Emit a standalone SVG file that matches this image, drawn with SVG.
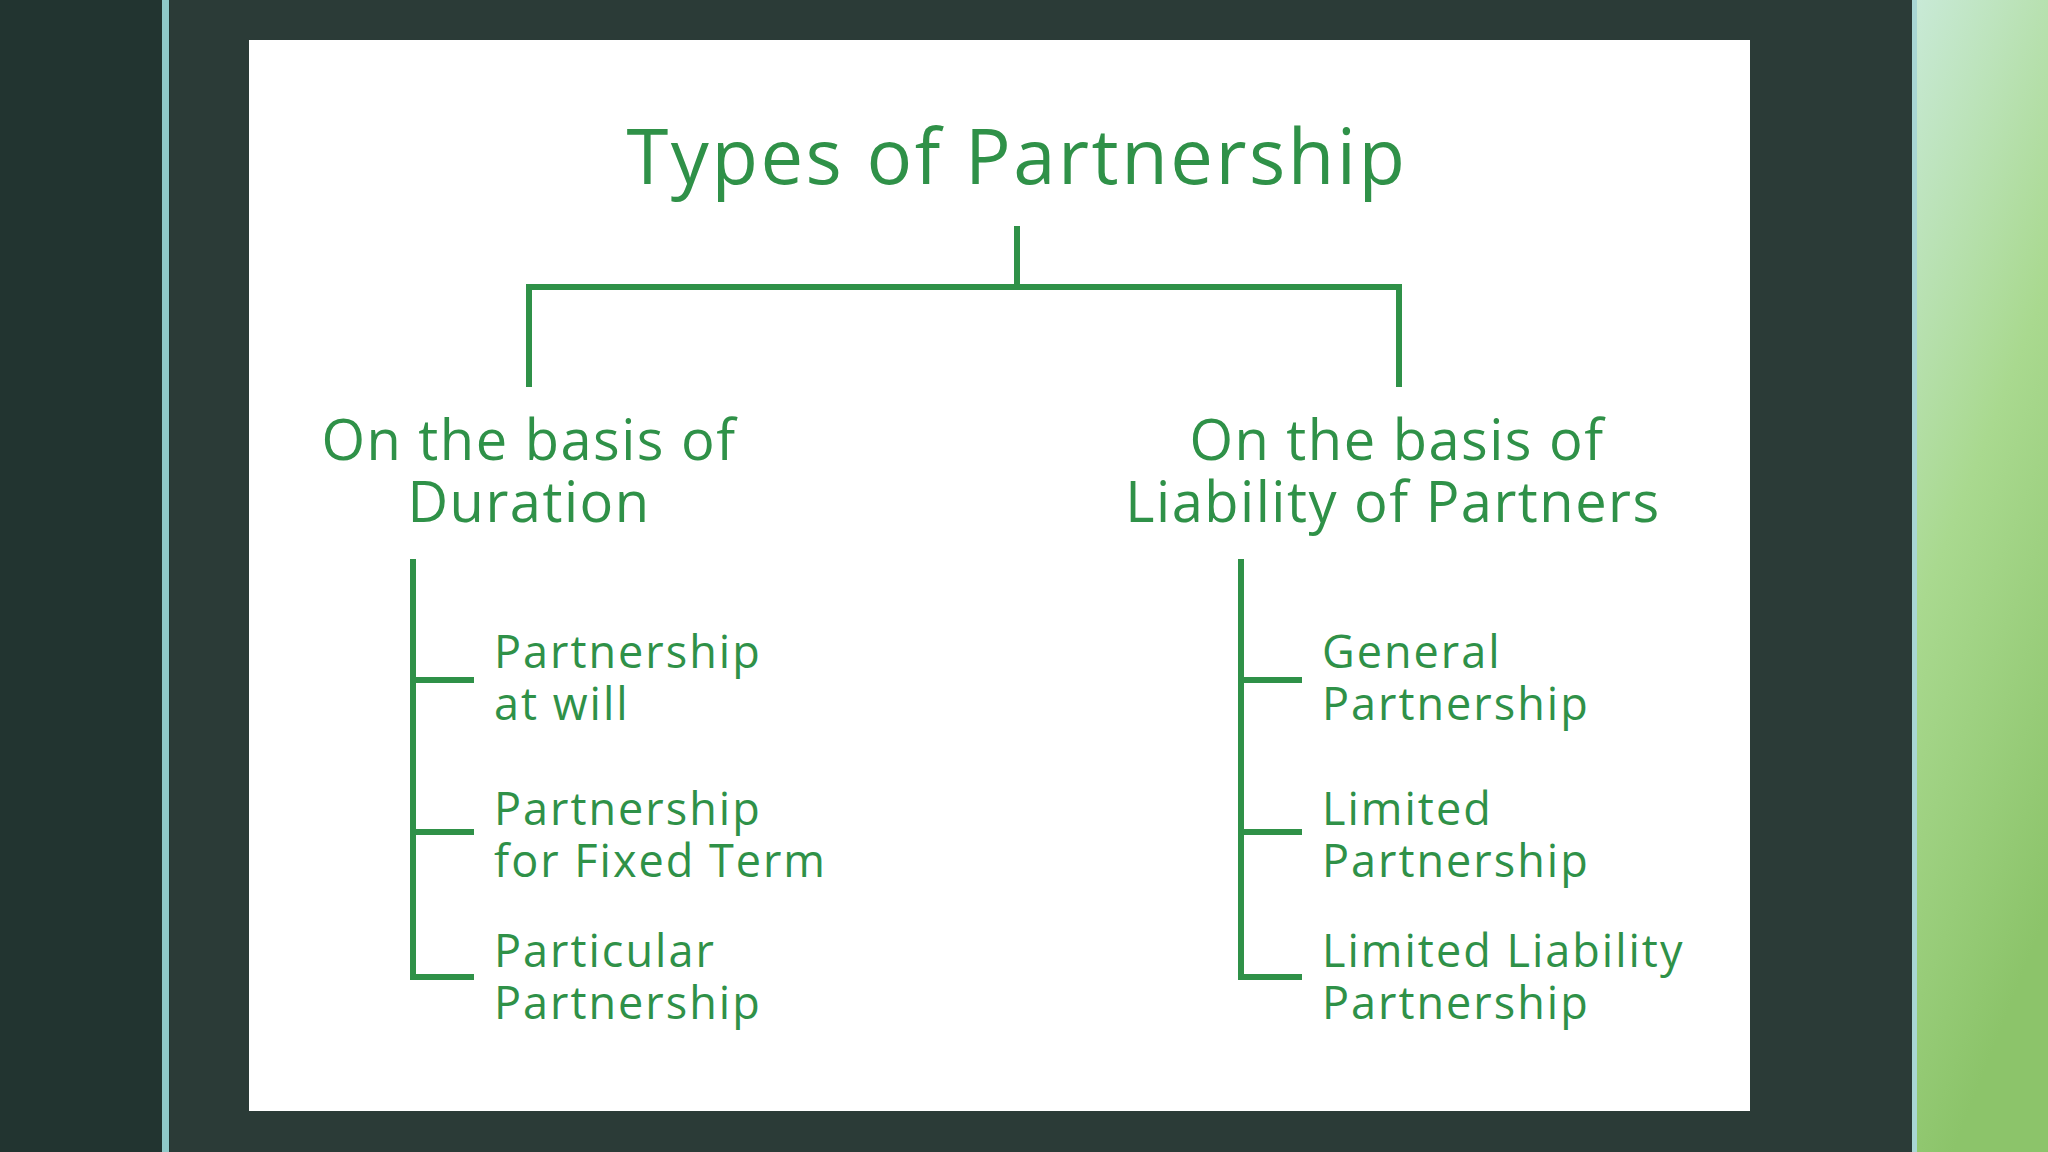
<svg xmlns="http://www.w3.org/2000/svg" width="2048" height="1152" viewBox="0 0 2048 1152">
<defs>
<linearGradient id="g" x1="0" y1="0" x2="0.3" y2="1"><stop offset="0" stop-color="#c9ead8"/><stop offset="0.5" stop-color="#a9d98f"/><stop offset="1" stop-color="#8cc46a"/></linearGradient>
<style>
.t{font-family:"Open Sans","Liberation Sans",sans-serif;fill:#2f9148}
.h{font-size:56px;text-anchor:middle;letter-spacing:1.5px}
.i{font-size:45px;letter-spacing:2px}
.c{stroke:#2f9148;stroke-width:6;fill:none}
</style>
</defs>
<rect width="2048" height="1152" fill="#223430"/>
<rect x="170" y="0" width="1742" height="1152" fill="#2b3b37"/>
<rect x="162" y="0" width="7" height="1152" fill="#8fc9c8"/>
<rect x="1912" y="0" width="136" height="1152" fill="url(#g)"/>
<rect x="1912" y="0" width="5" height="1152" fill="#a9d6d4"/>
<rect x="249" y="40" width="1501" height="1071" fill="#ffffff"/>
<g id="title"><text class="t" x="1017" y="184" font-size="76" text-anchor="middle" letter-spacing="2.5">Types of Partnership</text></g>
<g id="connectors">
<path class="c" d="M1017 226V287M529 387V287H1399V387"/>
<path class="c" d="M413 559V980M413 680H474M413 832H474M410 977H474"/>
<path class="c" d="M1241 559V980M1241 680H1302M1241 832H1302M1238 977H1302"/>
</g>
<g id="duration"><text class="t h" x="529" y="460">On the basis of</text><text class="t h" x="529" y="522">Duration</text></g>
<g id="liability"><text class="t h" x="1397" y="460">On the basis of</text><text class="t h" x="1393" y="522">Liability of Partners</text></g>
<g id="atwill"><text class="t i" x="494" y="668">Partnership</text><text class="t i" x="494" y="720">at will</text></g>
<g id="fixed"><text class="t i" x="494" y="825">Partnership</text><text class="t i" x="494" y="877">for Fixed Term</text></g>
<g id="particular"><text class="t i" x="494" y="967">Particular</text><text class="t i" x="494" y="1019">Partnership</text></g>
<g id="general"><text class="t i" x="1322" y="668">General</text><text class="t i" x="1322" y="720">Partnership</text></g>
<g id="limited"><text class="t i" x="1322" y="825">Limited</text><text class="t i" x="1322" y="877">Partnership</text></g>
<g id="llp"><text class="t i" x="1322" y="967">Limited Liability</text><text class="t i" x="1322" y="1019">Partnership</text></g>
</svg>
